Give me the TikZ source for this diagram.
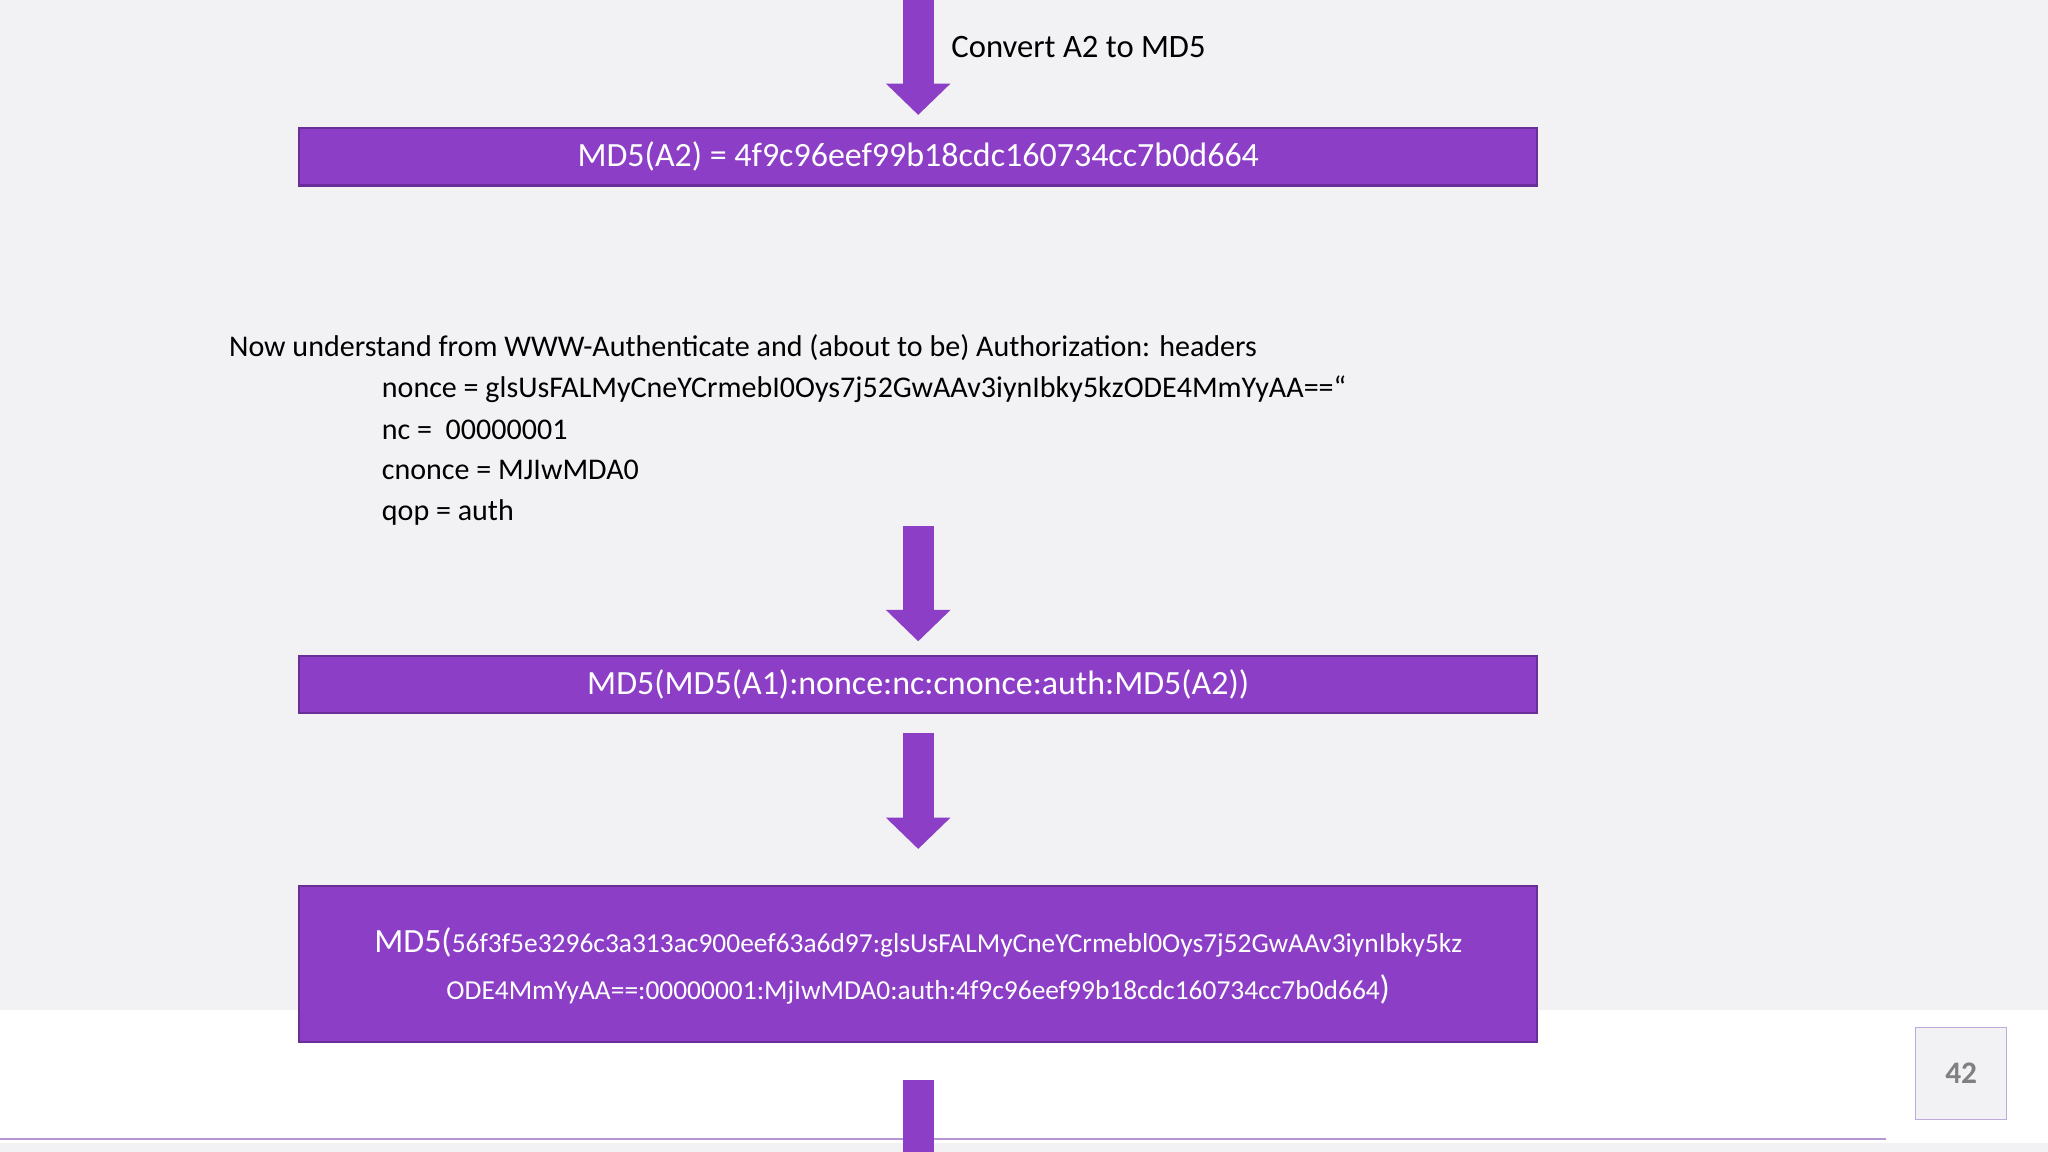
\documentclass[tikz,border=0pt]{standalone}
\usepackage{fontspec}
\setmainfont{Carlito}
\usetikzlibrary{arrows.meta}
\definecolor{pfill}{HTML}{8C3FC6}
\definecolor{pline}{HTML}{6A2E99}
\definecolor{bg}{HTML}{F2F1F3}
\begin{document}
\begin{tikzpicture}[x=0.5pt,y=-0.5pt,
  box/.style={draw=pline,fill=pfill,line width=0.8pt,text=white,inner sep=0pt},
  bigarrow/.style={draw=pfill,line width=12pt,-{Triangle[width=24pt 0 0,length=12pt 0 0]}},
  txt/.style={anchor=west,inner sep=0pt,font=\fontsize{11.5}{13}\selectfont}]
\useasboundingbox (0,0) rectangle (1568,882);
\fill[bg] (0,0) rectangle (1568,773);
\fill[white] (0,773) rectangle (1568,882);
\fill[bg] (0,875) rectangle (1568,882);
\draw[draw={rgb,255:red,180;green,150;blue,210},line width=1pt] (0,872) -- (1444,872);
\node[draw={rgb,255:red,190;green,170;blue,220},fill=bg,minimum width=35pt,minimum height=35pt,inner sep=0pt,font=\fontsize{12}{14}\selectfont\bfseries\rmfamily,text=gray] (pg) at (1501.5,822) {42};
% boxes
\node[box,minimum width=474pt,minimum height=22pt,font=\fontsize{13}{15}\selectfont] (b1) at (703,120) {MD5(A2) = 4f9c96eef99b18cdc160734cc7b0d664};
\node[box,minimum width=474pt,minimum height=22pt,font=\fontsize{13}{15}\selectfont] (b2) at (703,524) {MD5(MD5(A1):nonce:nc:cnonce:auth:MD5(A2))};
\node[box,minimum width=474pt,minimum height=60pt] (b3) at (703,738) {};
\node[inner sep=0pt,text=white,anchor=base] (b3a) at (703,729) {\fontsize{13}{15}\selectfont MD5(\fontsize{10.5}{12}\selectfont 56f3f5e3296c3a313ac900eef63a6d97:glsUsFALMyCneYCrmebl0Oys7j52GwAAv3iynIbky5kz};
\node[inner sep=0pt,text=white,anchor=base] (b3b) at (703,765) {\fontsize{10.5}{12}\selectfont ODE4MmYyAA==:00000001:MjIwMDA0:auth:4f9c96eef99b18cdc160734cc7b0d664\fontsize{13}{15}\selectfont)};
% arrows
\coordinate (a1s) at (703,0); \coordinate (a1e) at (703,88);
\draw[bigarrow] (a1s) -- (a1e);
\node[txt,font=\fontsize{12.5}{14}\selectfont] (c) at (728,36) {Convert A2 to MD5};
\coordinate (a2s) at (703,403); \coordinate (a2e) at (703,491);
\draw[bigarrow] (a2s) -- (a2e);
\draw[bigarrow] (b2) ++(0,37) coordinate (a3s) -- (703,650) coordinate (a3e);
\coordinate (a4s) at (703,827); \coordinate (a4e) at (703,882);
\draw[draw=pfill,line width=12pt] (a4s) -- (a4e);
% text
\node[txt] (t1) at (175,266) {Now understand from WWW-Authenticate and (about to be) Authorization: headers};
\node[txt] (t2) at (292,298) {nonce = glsUsFALMyCneYCrmebI0Oys7j52GwAAv3iynIbky5kzODE4MmYyAA==“};
\node[txt] (t3) at (292,329) {nc =~ 00000001};
\node[txt] (t4) at (292,360) {cnonce = MJIwMDA0};
\node[txt] (t5) at (292,392) {qop = auth};
\end{tikzpicture}
\end{document}
